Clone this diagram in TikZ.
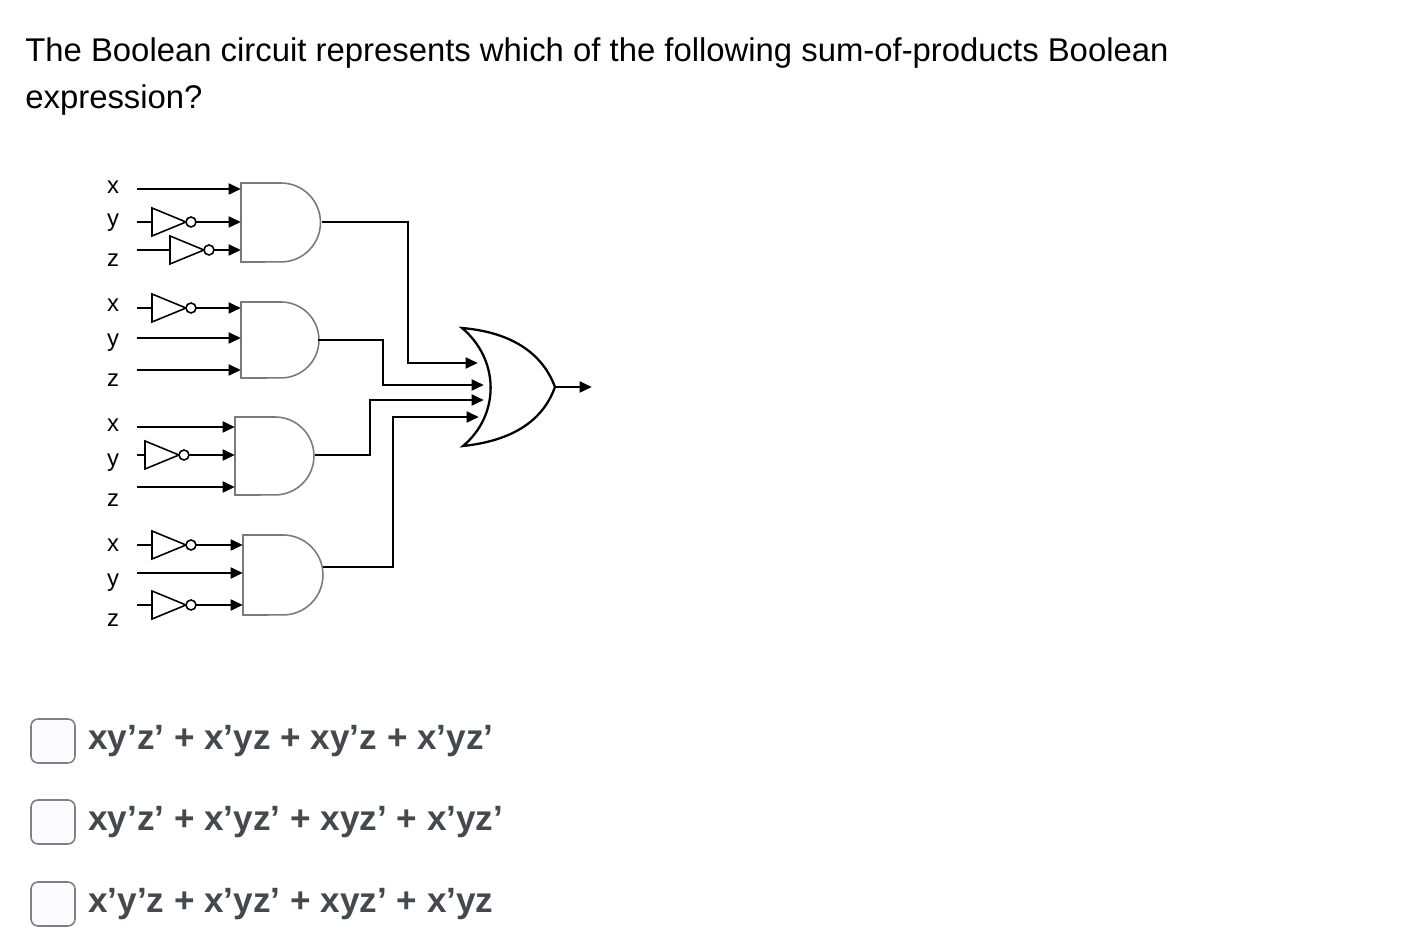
\documentclass[tikz,border=0pt]{standalone}
\usepackage{fontspec}
\setmainfont{Liberation Sans}
\usetikzlibrary{arrows.meta}
\definecolor{ans}{HTML}{45484C}
\definecolor{gateg}{HTML}{7A7A7A}
\tikzset{
  wire/.style={line width=1.7pt,black},
  arr/.style={wire,-{Triangle[length=7pt,width=6pt]}},
  gatebody/.style={draw=gateg,line width=0.9pt,fill=white},
  inv/.style={draw=black,line width=0.9pt,fill=white},
  lbl/.style={font=\fontsize{13.6}{15}\selectfont,anchor=center},
  box/.style={draw=gray,line width=0.9pt,fill=blue!2,rounded corners=4pt},
  anstext/.style={font=\fontsize{20}{24}\selectfont\bfseries,text=ans,anchor=west}
}
\newcommand\andg[4]{% name L T B
  \pgfmathsetmacro\hh{(#4-#3)*0.01}
  \draw[gatebody] (#2,#3) -- ({#2+40},#3) arc[start angle=90,end angle=-90,radius=\hh cm] -- (#2,#4) -- cycle;
  \coordinate (#1) at (#2,#3);}
\newcommand\plainin[3]{% y, gate L
  \coordinate (s#3) at (137,#1); \coordinate (e#3) at (#2,#1);
  \draw[arr] (s#3) -- (e#3);}
\newcommand\invin[4]{% y, triangle start, gate L, name
  \coordinate (s#4) at (137,#1); \coordinate (t#4) at (#2,#1); \coordinate (e#4) at (#3,#1);
  \draw[wire] (s#4) -- (t#4);
  \draw[inv] (t#4) ++(0,-14) -- ++(34,14) -- ++(-34,14) -- cycle;
  \draw[inv] ($(t#4)+(39,0)$) circle[radius=5];
  \draw[arr] ($(t#4)+(44,0)$) -- (e#4);}
\usetikzlibrary{calc}
\begin{document}
\begin{tikzpicture}[x=0.02cm,y=-0.02cm]
\path[fill=white] (0,0) rectangle (1428,952);
\useasboundingbox (0,0) rectangle (1428,952);
\node[anchor=base west,font=\fontsize{18.7}{22}\selectfont,inner sep=0] (t1) at (25,62) {The Boolean circuit represents which of the following sum-of-products Boolean};
\node[anchor=base west,font=\fontsize{18.7}{22}\selectfont,inner sep=0] (t2) at (25,109) {expression?};
% labels
\foreach \t/\y in {x/187,y/223,z/260,x/305,y/343,z/380,x/425,y/463,z/500,x/545,y/583,z/620}
  \node[lbl] at (113,\y) {\t};
% gates
\andg{g1}{241}{183}{262}
\andg{g2}{241}{302}{378}
\andg{g3}{235}{417}{495}
\andg{g4}{243}{535}{615}
% inputs
\plainin{189}{241}{a1}
\invin{222}{152}{241}{a2}
\invin{250}{170}{241}{a3}
\invin{308}{152}{241}{b1}
\plainin{338}{241}{b2}
\plainin{370}{241}{b3}
\plainin{427}{235}{c1}
\invin{455}{145}{235}{c2}
\plainin{487}{235}{c3}
\invin{545}{152}{243}{d1}
\plainin{573}{243}{d2}
\invin{605}{152}{243}{d3}
% OR gate
\draw[draw=black,line width=1.3pt,fill=white] (462,328) .. controls (500,360) and (500,415) .. (463,446)
  .. controls (520,440) and (545,415) .. (555,387) .. controls (545,360) and (520,333) .. cycle;
\coordinate (or) at (555,387);
\coordinate (out) at (592,387);
\draw[arr] (or) -- (out);
% outputs to OR
\coordinate (o1) at (322,222); \coordinate (i1) at (478,363);
\coordinate (o2) at (318,340); \coordinate (i2) at (484,385);
\coordinate (o3) at (315,455); \coordinate (i3) at (484,400);
\coordinate (o4) at (323,567); \coordinate (i4) at (479,417);
\draw[arr] (o1) -| (408,363) -- (i1);
\draw[arr] (o2) -| (383,385) -- (i2);
\draw[arr] (o3) -| (370,400) -- (i3);
\draw[arr] (o4) -| (393,417) -- (i4);
% answers
\foreach \y/\t [count=\i] in {741/{xy'z' + x'yz + xy'z + x'yz'},822/{xy'z' + x'yz' + xyz' + x'yz'},904/{x'y'z + x'yz' + xyz' + x'yz}}{
  \node[box,minimum width=44*0.02cm,minimum height=44*0.02cm] (b\i) at (53,\y) {};
  \node[anstext] (a\i) at (82,\y) {\t};
}
\end{tikzpicture}
\end{document}
